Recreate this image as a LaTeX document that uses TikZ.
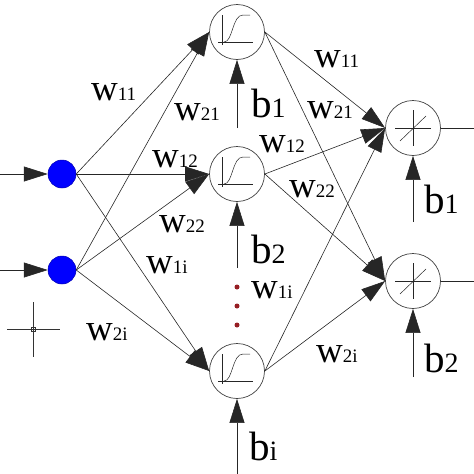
\documentclass[tikz,border=0pt]{standalone}
\usepackage{fontspec}
\setmainfont{Liberation Serif}
\usetikzlibrary{arrows.meta}
\newcommand{\wsub}[1]{{\fontsize{19}{19}\selectfont #1}}
\newcommand{\bsub}[1]{{\fontsize{28}{28}\selectfont #1}}
\definecolor{dotred}{RGB}{150,30,35}
\begin{document}
\begin{tikzpicture}[x=1pt,y=-1pt,
  conn/.style={draw=black!85, line width=0.6pt, -{Triangle[length=24pt,width=15pt]}},
  plain/.style={draw=black!85, line width=0.6pt},
  neuron/.style={circle, draw=black!75, line width=0.7pt, minimum size=55pt, inner sep=0pt},
  inp/.style={circle, fill=blue, draw=blue!70!black, line width=0.5pt, minimum size=28pt, inner sep=0pt},
  dotn/.style={circle, fill=dotred, minimum size=5pt, inner sep=0pt},
  lbl/.style={anchor=base west, inner sep=0pt, font=\rmfamily\fontsize{37}{37}\selectfont},
  blbl/.style={anchor=base west, inner sep=0pt, font=\rmfamily\fontsize{41}{41}\selectfont},
  sigm/.pic={
    \draw[black!85, line width=0.5pt] (-15,-17) -- (-15,13);
    \draw[black!85, line width=0.5pt] (-19,10) -- (16,10);
    \draw[black!85, line width=0.5pt] (-13,10) .. controls (-4,10) and (-5,-17) .. (6,-17) -- (13,-17);
  },
  linf/.pic={
    \draw[black!85, line width=0.5pt] (-18,0) -- (18,0);
    \draw[black!85, line width=0.5pt] (0,-18) -- (0,18);
    \draw[black!85, line width=0.5pt] (-13,13) -- (13,-12);
  }]
\useasboundingbox (0,0) rectangle (474,474);

% nodes
\node[inp] (x1) at (62,174) {};
\node[inp] (x2) at (62,270) {};
\node[neuron] (h1) at (237,32) {};
\node[neuron] (h2) at (237,174) {};
\node[neuron] (h3) at (237,371) {};
\node[neuron] (o1) at (413,128) {};
\node[neuron] (o2) at (413,281) {};

\pic at (h1) {sigm};
\pic at (h2) {sigm};
\pic at (h3) {sigm};
\pic at (o1) {linf};
\pic at (o2) {linf};

% inputs
\coordinate (i1) at (0,174);
\coordinate (i2) at (0,270);
\draw[conn] (i1) -- (x1.west);
\draw[conn] (i2) -- (x2.west);

% input -> hidden
\draw[conn] (x1.east) -- (h1.west);
\draw[conn] (x1.east) -- (h2.west);
\draw[conn] (x1.east) -- (h3.west);
\draw[conn] (x2.east) -- (h1.west);
\draw[conn] (x2.east) -- (h2.west);
\draw[conn] (x2.east) -- (h3.west);

% hidden -> output
\draw[conn] (h1.east) -- (o1.west);
\draw[conn] (h1.east) -- (o2.west);
\draw[conn] (h2.east) -- (o1.west);
\draw[conn] (h2.east) -- (o2.west);
\draw[conn] (h3.east) -- (o1.west);
\draw[conn] (h3.east) -- (o2.west);

% outputs
\coordinate (y1) at (474,128);
\coordinate (y2) at (474,281);
\draw[plain] (o1.east) -- (y1);
\draw[plain] (o2.east) -- (y2);

% biases
\coordinate (bh1) at (237,128);
\coordinate (bh2) at (237,268);
\coordinate (bh3) at (237,474);
\coordinate (bo1) at (413,222);
\coordinate (bo2) at (413,377);
\draw[conn] (bh1) -- (h1.south);
\draw[conn] (bh2) -- (h2.south);
\draw[conn] (bh3) -- (h3.south);
\draw[conn] (bo1) -- (o1.south);
\draw[conn] (bo2) -- (o2.south);

% dots
\node[dotn] (d1) at (237,287) {};
\node[dotn] (d2) at (237,306) {};
\node[dotn] (d3) at (237,325) {};

% crosshair
\draw[black!80, line width=0.5pt] (7,329) -- (60,329);
\draw[black!80, line width=0.5pt] (33,302) -- (33,357);
\draw[black!80, line width=0.5pt] (31,327) rectangle (35,331);

% weight labels
\node[lbl] (lw11a) at (91,100) {w\wsub{11}};
\node[lbl] (lw21a) at (174,120) {w\wsub{21}};
\node[lbl] (lw12a) at (152,167) {w\wsub{12}};
\node[lbl] (lw22a) at (159,232) {w\wsub{22}};
\node[lbl] (lw1ia) at (146,273) {w\wsub{1i}};
\node[lbl] (lw2ia) at (86,340) {w\wsub{2i}};
\node[lbl] (lw11b) at (314,67) {w\wsub{11}};
\node[lbl] (lw21b) at (307,118) {w\wsub{21}};
\node[lbl] (lw12b) at (259,152) {w\wsub{12}};
\node[lbl] (lw22b) at (289,197) {w\wsub{22}};
\node[lbl] (lw1ib) at (251,298) {w\wsub{1i}};
\node[lbl] (lw2ib) at (316,362) {w\wsub{2i}};

% bias labels
\node[blbl] (lb1h) at (251,117) {b\bsub{1}};
\node[blbl] (lb2h) at (251,263) {b\bsub{2}};
\node[blbl] (lbih) at (249,460) {b\bsub{i}};
\node[blbl] (lb1o) at (424,213) {b\bsub{1}};
\node[blbl] (lb2o) at (424,372) {b\bsub{2}};
\end{tikzpicture}
\end{document}
